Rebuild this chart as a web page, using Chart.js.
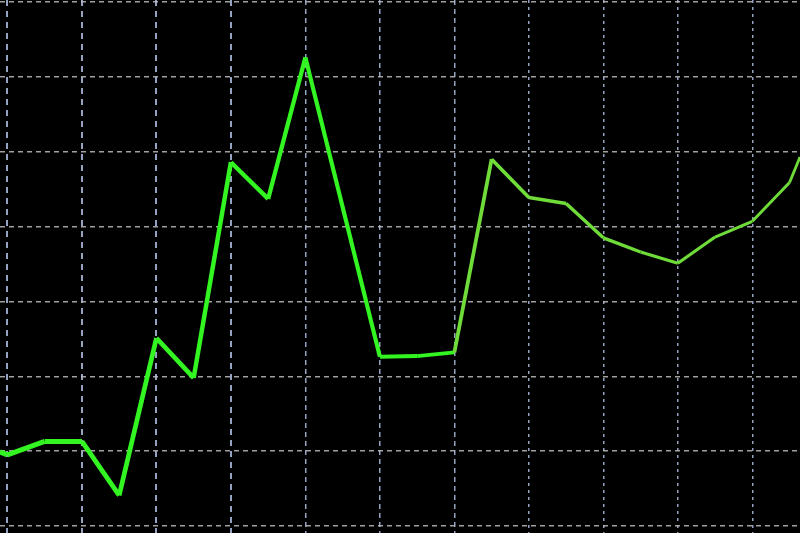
<!DOCTYPE html>
<html>
<head>
<meta charset="utf-8">
<script src="https://cdn.jsdelivr.net/npm/chart.js@4"></script>
<style>
	html, body { margin: 0; padding: 0; background: #000; }
	.graphic { width: 800px; height: 533px; background: #000; }
</style>
</head>
<body>
<div class="graphic"><canvas class="graphic__canvas"></canvas></div>
<script>
// Шаги по горизонтали (1 = одна клетка сетки)
const STEPS = [-0.1, 0, 0.5, 1, 1.5, 2, 2.5, 3, 3.5, 4, 5, 5.5, 6, 6.5, 7, 7.5, 8, 8.5, 9, 9.5, 10, 10.5, 10.64];
// Значения котировки
const VALUES = [0.99, 0.95, 1.13, 1.13, 0.41, 2.51, 1.98, 4.86, 4.37, 6.26, 2.26, 2.27, 2.32, 4.90, 4.39, 4.31, 3.85, 3.66, 3.51, 3.86, 4.07, 4.59, 4.93];

const X_MIN = -0.1;
const X_MAX = 10.64;
const Y_MIN = -0.093;
const Y_MAX = 7.027;

window.addEventListener('load', () => {
	let canvas = document.querySelector('.graphic__canvas');

	let points = [];
	STEPS.forEach((step, index) => {
		points.push({ x: step, y: VALUES[index] });
	});

	//Толщина и цвет линии меняются слева направо
	function segmentWidth(ctx) {
		let x = ctx.p0.parsed.x;
		return 5 - (x / X_MAX) * 2.2;
	}

	function segmentColor(ctx) {
		return ctx.p0.parsed.x < 6 ? '#33f522' : '#6fdc3a';
	}

	new Chart(canvas, {
		type: 'line',
		data: {
			datasets: [{
				data: points,
				borderColor: '#33f522',
				borderWidth: 4,
				pointRadius: 0,
				tension: 0,
				segment: {
					borderColor: segmentColor,
					borderWidth: segmentWidth
				}
			}]
		},
		options: {
			responsive: true,
			maintainAspectRatio: false,
			animation: false,
			layout: { padding: 0 },
			plugins: {
				legend: { display: false },
				tooltip: { enabled: false }
			},
			scales: {
				x: {
					type: 'linear',
					min: X_MIN,
					max: X_MAX,
					ticks: { display: false, stepSize: 1, includeBounds: false },
					grid: {
						drawTicks: false,
						color: 'rgba(165, 180, 215, 0.9)',
						lineWidth: (ctx) => ctx.index < 4 ? 2 : 1.5
					},
					border: {
						display: false,
						dash: (ctx) => ctx.index < 4 ? [6, 5] : (ctx.index < 7 ? [5, 4] : [3, 4])
					}
				},
				y: {
					type: 'linear',
					min: Y_MIN,
					max: Y_MAX,
					ticks: { display: false, stepSize: 1, includeBounds: false },
					grid: {
						drawTicks: false,
						color: 'rgba(190, 188, 190, 0.85)',
						lineWidth: 1.6
					},
					border: {
						display: false,
						dash: [5, 4]
					}
				}
			}
		}
	});
}, { once: true });
</script>
</body>
</html>
